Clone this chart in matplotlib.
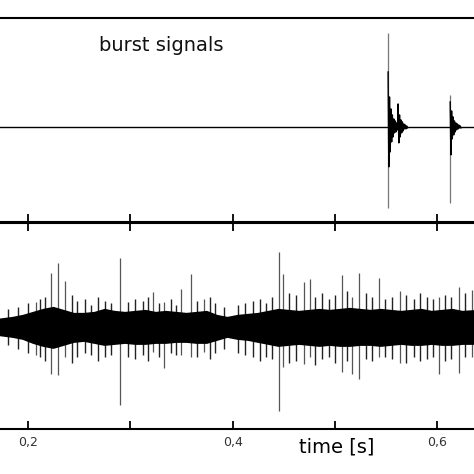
import numpy as np
import matplotlib
matplotlib.use("Agg")
import matplotlib.pyplot as plt

# x limits of the cropped view (seconds)
t_min, t_max = 0.1726, 0.636

# ---- top panel: burst signals (amplitude in arbitrary units) ----
burst_t0 = [0.552, 0.6127]
burst_spike_up = [94, 32]
burst_spike_dn = [-81, -76]
burst1_osc = [55, -40, 30, -25, 18, -15, 12, -10, 8, -6, 6, -5, 4, -3,
              23, -16, 12, -10, 7, -6, 5, -4, 3, -2, 2, -2, 1, -1]
burst2_osc = [25, -28, 16, -12, 10, -8, 6, -5, 4, -3, 3, -2, 2, -1, 1, -1]
osc_dt = 0.0007

# ---- bottom panel: continuous signal, core envelope ----
env_t = [0.170, 0.185, 0.195, 0.205, 0.215, 0.225, 0.235, 0.245, 0.255, 0.265,
         0.275, 0.285, 0.295, 0.305, 0.315, 0.325, 0.335, 0.345, 0.355, 0.365,
         0.375, 0.385, 0.395, 0.405, 0.415, 0.425, 0.435, 0.445, 0.455, 0.465,
         0.475, 0.485, 0.495, 0.505, 0.515, 0.525, 0.535, 0.545, 0.555, 0.565,
         0.575, 0.585, 0.595, 0.605, 0.615, 0.625, 0.640]
env_up = [8, 10, 12, 15, 18, 20, 17, 14, 14, 15, 18, 16, 15, 16, 17, 15, 16, 15,
          14, 15, 16, 12, 10, 12, 13, 14, 16, 18, 17, 16, 17, 18, 17, 18, 19, 18,
          17, 18, 17, 16, 17, 18, 16, 17, 18, 16, 17]
env_dn = [-9, -11, -13, -17, -20, -22, -19, -16, -15, -17, -19, -18, -17, -18,
          -18, -17, -17, -16, -16, -17, -17, -14, -11, -13, -14, -16, -18, -20,
          -19, -18, -19, -20, -19, -20, -20, -19, -19, -20, -19, -18, -19, -19,
          -18, -19, -19, -18, -18]

# large spikes: time, upper peak, lower peak
spk_t = [0.208, 0.222, 0.229, 0.236, 0.290, 0.322, 0.333, 0.350, 0.359, 0.372,
         0.4456, 0.449, 0.470, 0.476, 0.507, 0.517, 0.524, 0.543, 0.564, 0.602,
         0.621, 0.634]
spk_up = [25, 54, 64, 46, 69, 35, 25, 38, 53, 28, 75, 53, 45, 48, 52, 30, 54, 49,
          36, 30, 40, 37]
spk_dn = [-28, -47, -48, -30, -78, -25, -41, -28, -30, -25, -84, -40, -37, -30,
          -45, -47, -52, -30, -36, -47, -46, -30]

# smaller fringe spikes
fr_t = [0.180, 0.190, 0.200, 0.212, 0.217, 0.243, 0.248, 0.256, 0.262, 0.268,
        0.275, 0.281, 0.298, 0.305, 0.312, 0.317, 0.328, 0.340, 0.345, 0.365,
        0.378, 0.383, 0.392, 0.405, 0.412, 0.420, 0.427, 0.433, 0.439, 0.455,
        0.462, 0.481, 0.487, 0.494, 0.500, 0.512, 0.530, 0.536, 0.549, 0.556,
        0.570, 0.577, 0.583, 0.590, 0.596, 0.608, 0.614, 0.627]
fr_up = [18, 20, 24, 28, 30, 32, 26, 28, 22, 30, 26, 24, 25, 28, 26, 30, 24, 28,
         22, 26, 30, 24, 20, 22, 24, 26, 28, 24, 30, 34, 32, 30, 34, 28, 32, 36,
         34, 30, 28, 30, 32, 28, 34, 30, 28, 32, 30, 34]
fr_dn = [-18, -22, -26, -30, -34, -36, -30, -26, -28, -34, -30, -28, -30, -32,
         -28, -34, -30, -26, -28, -30, -32, -26, -22, -26, -28, -30, -34, -30,
         -32, -36, -34, -38, -32, -30, -36, -34, -32, -34, -30, -32, -36, -30,
         -34, -32, -30, -34, -32, -30]

fig = plt.figure(figsize=(4.74, 4.74), dpi=100)
ax1 = fig.add_axes([0, 0.532, 1, 0.430])
ax2 = fig.add_axes([0, 0.095, 1, 0.435])

# top panel
ax1.plot([t_min, t_max], [0, 0], color="black", lw=1.0, zorder=1)
for i, t0 in enumerate(burst_t0):
    ax1.vlines(t0, burst_spike_dn[i], burst_spike_up[i], color="#777777", lw=0.9, zorder=2)
    osc = burst1_osc if i == 0 else burst2_osc
    ts = [t0 + k * osc_dt for k in range(len(osc))]
    ax1.plot(ts, osc, color="black", lw=1.0, zorder=3)
ax1.set_xlim(t_min, t_max)
ax1.set_ylim(-95, 109)
ax1.text(0.269, 81, "burst signals", fontsize=14, color="#111111", va="center")

# bottom panel
ax2.fill_between(env_t, env_dn, env_up, color="black", lw=0, zorder=2)
ax2.vlines(fr_t, fr_dn, fr_up, color="#222222", lw=1.0, zorder=1)
ax2.vlines(spk_t, spk_dn, spk_up, color="#555555", lw=0.9, zorder=1)
ax2.set_xlim(t_min, t_max)
ax2.set_ylim(-102, 104)

ticks = [0.2, 0.3, 0.4, 0.5, 0.6]
for ax in (ax1, ax2):
    for s in ("left", "right"):
        ax.spines[s].set_visible(False)
    ax.spines["top"].set_linewidth(1.5)
    ax.spines["bottom"].set_linewidth(1.5)
    ax.set_yticks([])
    ax.set_xticks(ticks)
ax1.tick_params(axis="x", direction="in", length=6, width=1.3, labelbottom=False)
ax2.tick_params(axis="x", direction="in", length=6, width=1.3, top=True,
                labelsize=9, labelcolor="#333333", pad=5)
ax2.set_xticklabels(["0,2", "", "0,4", "", "0,6"])
fig.text(0.71, 0.057, "time [s]", fontsize=14, ha="center", va="center")

fig.savefig("out.png", dpi=100)
